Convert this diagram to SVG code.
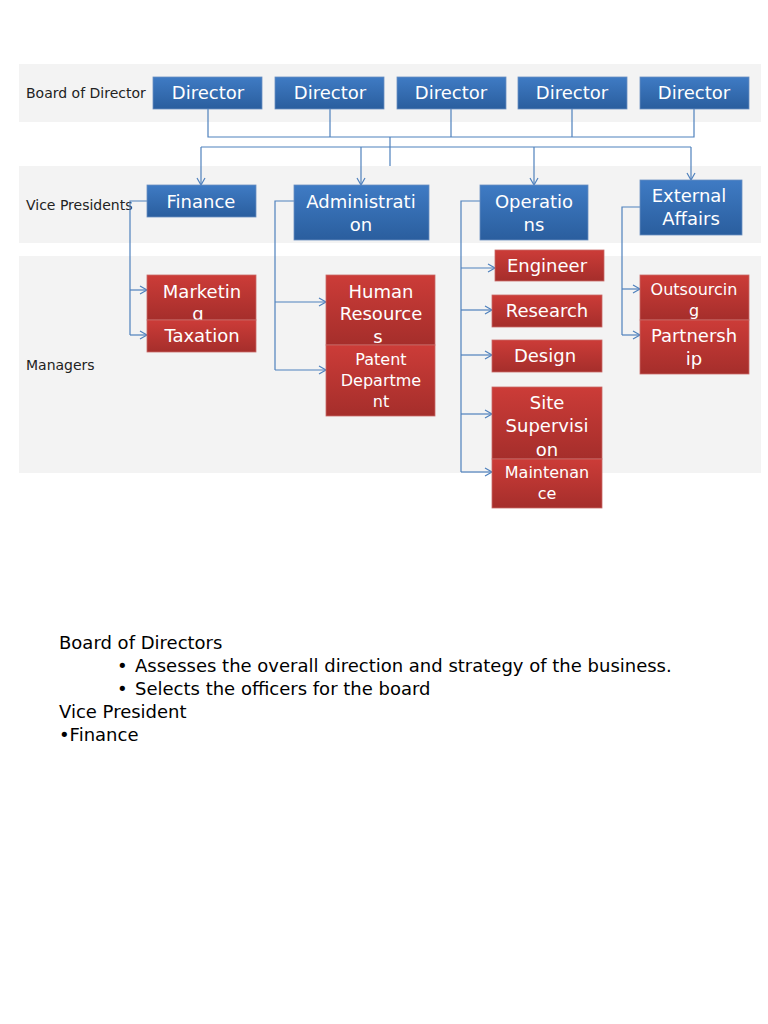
<svg xmlns="http://www.w3.org/2000/svg" width="768" height="1024" viewBox="0 0 768 1024">
<defs>
<linearGradient id="bl" x1="0" y1="0" x2="0" y2="1"><stop offset="0" stop-color="#3f7bc4"/><stop offset="1" stop-color="#2a5e9e"/></linearGradient>
<linearGradient id="rd" x1="0" y1="0" x2="0" y2="1"><stop offset="0" stop-color="#cc3c38"/><stop offset="1" stop-color="#a52e2b"/></linearGradient>
<marker id="ar" markerWidth="10" markerHeight="10" refX="8" refY="5" orient="auto" markerUnits="userSpaceOnUse"><path d="M1,1 L8,5 L1,9" fill="none" stroke="#4f81bd" stroke-width="1.2"/></marker>
</defs>
<style>
.band{fill:#f3f3f3}
.b{fill:url(#bl);stroke:#6a8fc0;stroke-width:0.8}
.r{fill:url(#rd);stroke:#c86a68;stroke-width:0.8}
.t{font-family:"DejaVu Sans",sans-serif;fill:#fff;text-anchor:middle}
.l{font-family:"DejaVu Sans",sans-serif;fill:#222;font-size:14px}
.c{fill:none;stroke:#4f81bd;stroke-width:1.2}
.a{marker-end:url(#ar)}
.bt{font-family:"DejaVu Sans",sans-serif;fill:#000;font-size:18px}
</style>
<rect width="768" height="1024" fill="#fff"/>
<rect class="band" x="19" y="64" width="742" height="58"/>
<rect class="band" x="19" y="166" width="742" height="77"/>
<rect class="band" x="19" y="256" width="742" height="217"/>
<text class="l" x="26" y="98">Board of Director</text>
<text class="l" x="26" y="210">Vice Presidents</text>
<text class="l" x="26" y="370">Managers</text>
<g id="connectors">
<path class="c" d="M208,109V137H694V109M330,109V137M451,109V137M572,109V137M390,137V166M201,147H691"/>
<path class="c a" d="M201,147V185"/><path class="c a" d="M361,147V185"/><path class="c a" d="M534,147V185"/><path class="c a" d="M691,147V180"/>
<path class="c" d="M147,201H130V335"/>
<path class="c a" d="M130,290H147"/><path class="c a" d="M130,335H147"/>
<path class="c" d="M294,201H275V370"/>
<path class="c a" d="M275,302H326"/><path class="c a" d="M275,370H326"/>
<path class="c" d="M480,201H461V472"/>
<path class="c a" d="M461,268H495"/><path class="c a" d="M461,310H492"/><path class="c a" d="M461,355H492"/><path class="c a" d="M461,414H492"/><path class="c a" d="M461,472H492"/>
<path class="c" d="M640,207H622V335"/>
<path class="c a" d="M622,289H640"/><path class="c a" d="M622,335H640"/>
</g>
<g id="d1"><rect class="b" x="153" y="77" width="109" height="32"/><text class="t" x="208" y="99" font-size="18">Director</text></g>
<g id="d2"><rect class="b" x="275" y="77" width="109" height="32"/><text class="t" x="330" y="99" font-size="18">Director</text></g>
<g id="d3"><rect class="b" x="397" y="77" width="109" height="32"/><text class="t" x="451" y="99" font-size="18">Director</text></g>
<g id="d4"><rect class="b" x="518" y="77" width="109" height="32"/><text class="t" x="572" y="99" font-size="18">Director</text></g>
<g id="d5"><rect class="b" x="640" y="77" width="109" height="32"/><text class="t" x="694" y="99" font-size="18">Director</text></g>
<g id="finance"><rect class="b" x="147" y="185" width="109" height="32"/><text class="t" x="201" y="208" font-size="18">Finance</text></g>
<g id="admin"><rect class="b" x="294" y="185" width="135" height="55"/><text class="t" x="361" y="208" font-size="18">Administrati</text><text class="t" x="361" y="231" font-size="18">on</text></g>
<g id="ops"><rect class="b" x="480" y="185" width="108" height="55"/><text class="t" x="534" y="208" font-size="18">Operatio</text><text class="t" x="534" y="231" font-size="18">ns</text></g>
<g id="ext"><rect class="b" x="640" y="180" width="102" height="55"/><text class="t" x="689" y="202" font-size="18">External</text><text class="t" x="691" y="225" font-size="18">Affairs</text></g>
<g id="marketing"><rect class="r" x="147" y="275" width="109" height="45"/><text class="t" x="202" y="298" font-size="18">Marketin</text><text class="t" x="198" y="320" font-size="18">g</text></g>
<g id="taxation"><rect class="r" x="147" y="320" width="109" height="32"/><text class="t" x="202" y="342" font-size="18">Taxation</text></g>
<g id="hr"><rect class="r" x="326" y="275" width="109" height="70"/><text class="t" x="381" y="298" font-size="18">Human</text><text class="t" x="381" y="320" font-size="18">Resource</text><text class="t" x="378" y="343" font-size="18">s</text></g>
<g id="patent"><rect class="r" x="326" y="345" width="109" height="71"/><text class="t" x="381" y="365" font-size="16">Patent</text><text class="t" x="381" y="386" font-size="16">Departme</text><text class="t" x="381" y="407" font-size="16">nt</text></g>
<g id="engineer"><rect class="r" x="495" y="250" width="109" height="31"/><text class="t" x="547" y="272" font-size="18">Engineer</text></g>
<g id="research"><rect class="r" x="492" y="295" width="110" height="32"/><text class="t" x="547" y="317" font-size="18">Research</text></g>
<g id="design"><rect class="r" x="492" y="340" width="110" height="32"/><text class="t" x="545" y="362" font-size="18">Design</text></g>
<g id="site"><rect class="r" x="492" y="387" width="110" height="72"/><text class="t" x="547" y="409" font-size="18">Site</text><text class="t" x="547" y="432" font-size="18">Supervisi</text><text class="t" x="547" y="456" font-size="18">on</text></g>
<g id="maint"><rect class="r" x="492" y="459" width="110" height="49"/><text class="t" x="547" y="478" font-size="16">Maintenan</text><text class="t" x="547" y="499" font-size="16">ce</text></g>
<g id="outs"><rect class="r" x="640" y="275" width="109" height="45"/><text class="t" x="694" y="295" font-size="16">Outsourcin</text><text class="t" x="694" y="316" font-size="16">g</text></g>
<g id="part"><rect class="r" x="640" y="320" width="109" height="54"/><text class="t" x="694" y="342" font-size="18">Partnersh</text><text class="t" x="694" y="365" font-size="18">ip</text></g>
<text class="bt" x="59" y="649">Board of Directors</text>
<text class="bt" x="117" y="672">•</text><text class="bt" x="135" y="672">Assesses the overall direction and strategy of the business.</text>
<text class="bt" x="117" y="695">•</text><text class="bt" x="135" y="695">Selects the officers for the board</text>
<text class="bt" x="59" y="718">Vice President</text>
<text class="bt" x="59" y="741">•Finance</text>
</svg>
